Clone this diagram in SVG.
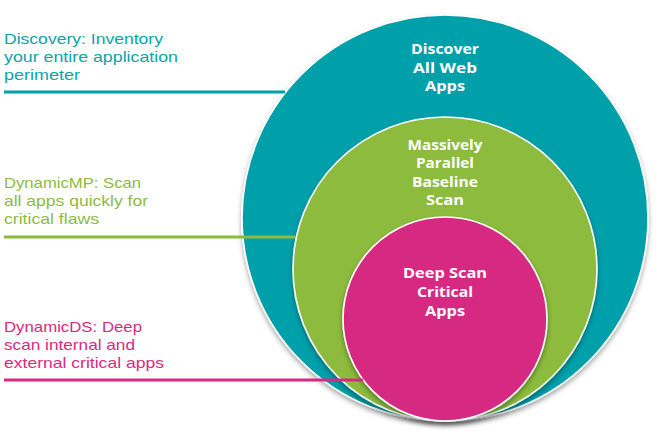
<svg xmlns="http://www.w3.org/2000/svg" width="659" height="434" viewBox="0 0 659 434">
  <defs>
    <filter id="sh" x="-10%" y="-10%" width="120%" height="125%">
      <feDropShadow dx="0" dy="3" stdDeviation="2.5" flood-color="#000" flood-opacity="0.35"/>
    </filter>
  </defs>
  <style>
    .ring { stroke: #ffffff; stroke-width: 1.6; filter: url(#sh); }
    .lbl { font-family: "Liberation Sans", "Open Sans", sans-serif; font-size: 15px; }
    .in { font-family: "Open Sans", "Liberation Sans", sans-serif; font-size: 15px; font-weight: 700; fill: #ffffff; text-anchor: middle; }
    .conn { stroke-width: 3; fill: none; }
  </style>
  <rect width="659" height="434" fill="#ffffff"/>

  <g id="node-discover">
    <circle class="ring" cx="445" cy="218" r="203" fill="#00A0AB"/>
    <text class="in" x="445" y="54" textLength="68" lengthAdjust="spacingAndGlyphs">Discover</text>
    <text class="in" x="445" y="72.5" textLength="64" lengthAdjust="spacingAndGlyphs">All Web</text>
    <text class="in" x="445" y="91" textLength="40" lengthAdjust="spacingAndGlyphs">Apps</text>
  </g>

  <g id="node-massively">
    <circle class="ring" cx="445" cy="269" r="152" fill="#8CBB3D"/>
    <text class="in" x="445" y="149.5" textLength="75" lengthAdjust="spacingAndGlyphs">Massively</text>
    <text class="in" x="445" y="168" textLength="58" lengthAdjust="spacingAndGlyphs">Parallel</text>
    <text class="in" x="445" y="186.5" textLength="66" lengthAdjust="spacingAndGlyphs">Baseline</text>
    <text class="in" x="445" y="205" textLength="38" lengthAdjust="spacingAndGlyphs">Scan</text>
  </g>

  <g id="node-deepscan">
    <circle class="ring" cx="445" cy="319" r="102" fill="#D62A82"/>
    <text class="in" x="445" y="278" textLength="84" lengthAdjust="spacingAndGlyphs">Deep Scan</text>
    <text class="in" x="445" y="296.5" textLength="56" lengthAdjust="spacingAndGlyphs">Critical</text>
    <text class="in" x="445" y="315.5" textLength="40" lengthAdjust="spacingAndGlyphs">Apps</text>
  </g>

  <g id="label-discovery" fill="#0BA3AC">
    <text class="lbl" x="4" y="44" textLength="159" lengthAdjust="spacingAndGlyphs">Discovery: Inventory</text>
    <text class="lbl" x="4" y="62" textLength="174" lengthAdjust="spacingAndGlyphs">your entire application</text>
    <text class="lbl" x="4" y="80" textLength="76" lengthAdjust="spacingAndGlyphs">perimeter</text>
  </g>

  <g id="label-dynamicmp" fill="#8DBB42">
    <text class="lbl" x="4" y="188" textLength="137" lengthAdjust="spacingAndGlyphs">DynamicMP: Scan</text>
    <text class="lbl" x="4" y="206" textLength="144" lengthAdjust="spacingAndGlyphs">all apps quickly for</text>
    <text class="lbl" x="4" y="224" textLength="95" lengthAdjust="spacingAndGlyphs">critical flaws</text>
  </g>

  <g id="label-dynamicds" fill="#D62A82">
    <text class="lbl" x="4" y="332" textLength="138" lengthAdjust="spacingAndGlyphs">DynamicDS: Deep</text>
    <text class="lbl" x="4" y="350" textLength="131" lengthAdjust="spacingAndGlyphs">scan internal and</text>
    <text class="lbl" x="4" y="368" textLength="160" lengthAdjust="spacingAndGlyphs">external critical apps</text>
  </g>

  <g id="connectors">
    <line class="conn" x1="4" y1="92" x2="285" y2="92" stroke="#00A0AB"/>
    <line class="conn" x1="4" y1="237" x2="295" y2="237" stroke="#8CBB3D"/>
    <line class="conn" x1="4" y1="380" x2="363" y2="380" stroke="#D62A82"/>
  </g>
</svg>
